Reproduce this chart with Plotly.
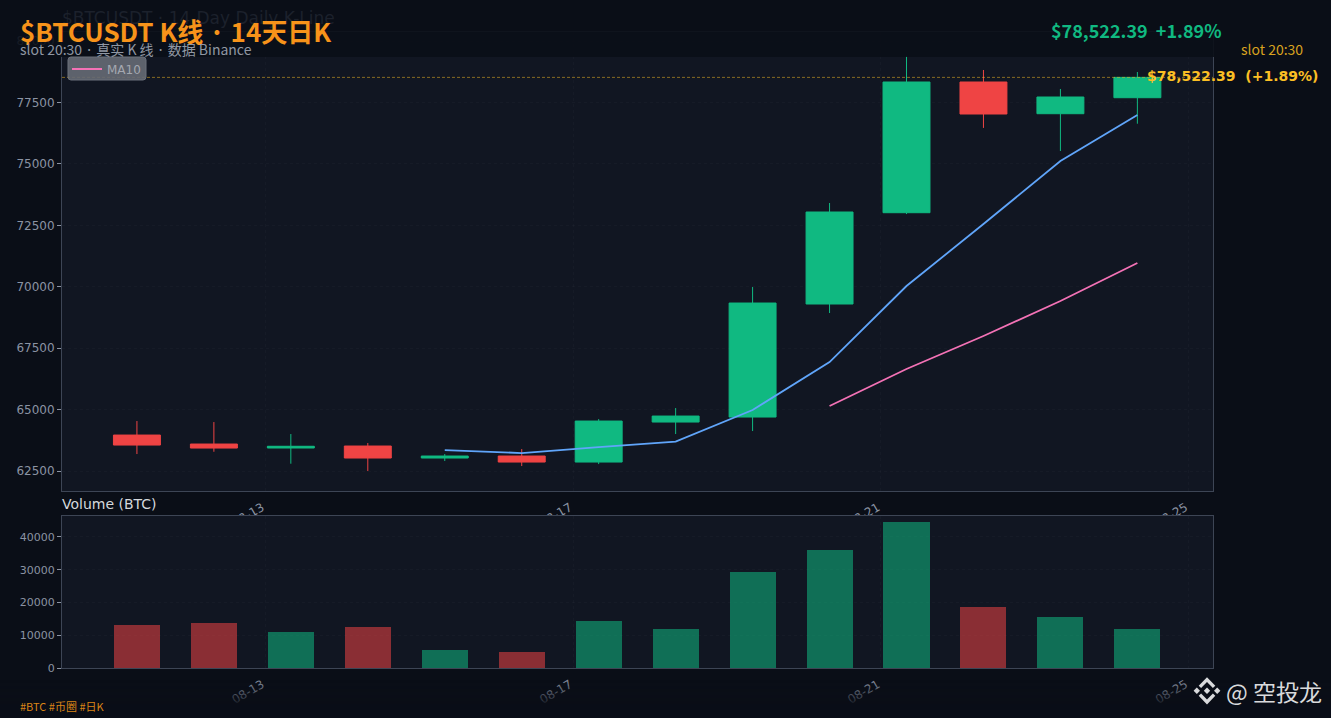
import plotly.graph_objects as go

# daily candles, 08:00 local open time
dates = ['2025-08-%02d 08:00' % d for d in range(11, 25)]
opens = [63967, 63601, 63440, 63520, 63032, 63113, 62868, 64496, 64700, 69300, 73015, 78334, 77044, 77695]
highs = [64537, 64496, 64008, 63642, 63194, 63397, 64618, 65066, 69991, 73410, 79400, 78823, 78050, 78741]
lows = [63194, 63287, 62800, 62502, 62910, 62705, 62785, 64008, 64130, 68933, 72960, 76466, 75525, 76637]
closes = [63560, 63438, 63510, 63032, 63113, 62868, 64537, 64740, 69340, 73044, 78334, 77032, 77724, 78522]
volumes = [13127, 13740, 11000, 12517, 5500, 4900, 14350, 11900, 29300, 36000, 44570, 18600, 15570, 11900]

ma5 = [None, None, None, None, 63357, 63235, 63479, 63703, 64985, 66938, 70032, 72555, 75119, 76991]
ma10 = [None, None, None, None, None, None, None, None, None, 65148, 66653, 67997, 69421, 70968]

last_price = 78522.39
tick_dates = ['2025-08-13', '2025-08-17', '2025-08-21', '2025-08-25']
tick_text = ['08-13', '08-17', '08-21', '08-25']

W, H = 1331, 718
PAPER = '#0a0e17'
PANEL = '#111622'
GREEN = '#10b981'
RED = '#ef4444'
AMBER = '#fbbf24'
ORANGE = '#f7931a'
AXIS = '#3d4555'
GRID = 'rgba(255,255,255,0.025)'
TICK = '#8b93a3'
CJK = 'Noto Sans CJK JP'
X_RANGE = ['2025-08-10 08:38', '2025-08-25 07:35']


def px(x):
    return x / W


def py(y):
    return 1 - y / H


def diamond_path(cx, cy, r):
    return 'M%f,%f L%f,%f L%f,%f L%f,%f Z' % (
        px(cx - r), py(cy), px(cx), py(cy - r), px(cx + r), py(cy), px(cx), py(cy + r))


def chevron_path(cx, cy, sign):
    # one of the two arrow heads of the exchange logo
    pts = [(cx - 8.3, cy - sign * 5), (cx, cy - sign * 13.6), (cx + 8.3, cy - sign * 5),
           (cx + 5.9, cy - sign * 2.8), (cx, cy - sign * 8.8), (cx - 5.9, cy - sign * 2.8)]
    return 'M' + ' L'.join('%f,%f' % (px(a), py(b)) for a, b in pts) + ' Z'


def rounded_path(x0, y0, x1, y1, r):
    return ('M%f,%f L%f,%f Q%f,%f %f,%f L%f,%f Q%f,%f %f,%f L%f,%f Q%f,%f %f,%f L%f,%f Q%f,%f %f,%f Z' % (
        px(x0 + r), py(y0), px(x1 - r), py(y0), px(x1), py(y0), px(x1), py(y0 + r),
        px(x1), py(y1 - r), px(x1), py(y1), px(x1 - r), py(y1),
        px(x0 + r), py(y1), px(x0), py(y1), px(x0), py(y1 - r),
        px(x0), py(y0 + r), px(x0), py(y0), px(x0 + r), py(y0)))


candles = go.Candlestick(
    x=dates, open=opens, high=highs, low=lows, close=closes,
    increasing=dict(line=dict(color=GREEN, width=1), fillcolor=GREEN),
    decreasing=dict(line=dict(color=RED, width=1), fillcolor=RED),
    showlegend=False, xaxis='x', yaxis='y',
)
ma5_line = go.Scatter(x=dates, y=ma5, mode='lines', name='MA5', showlegend=False,
                      line=dict(color='#60a5fa', width=1.8), xaxis='x', yaxis='y')
ma10_line = go.Scatter(x=dates, y=ma10, mode='lines', name='MA10',
                       line=dict(color='#f472b6', width=1.8), xaxis='x', yaxis='y')
vol_colors = ['rgba(16,185,129,0.55)' if c >= o else 'rgba(239,68,68,0.55)' for o, c in zip(opens, closes)]
vol_bars = go.Bar(x=dates, y=volumes, marker=dict(color=vol_colors, line=dict(width=0)),
                  width=51680000, showlegend=False, xaxis='x2', yaxis='y2')

shapes = [
    # volume panel hides the rotated labels of the axis above it
    dict(type='rect', xref='x2', yref='y2', layer='below', x0=X_RANGE[0], x1=X_RANGE[1], y0=0, y1=46400,
         fillcolor=PANEL, line=dict(width=0)),
    dict(type='line', xref='x domain', yref='y', x0=0, x1=1, y0=last_price, y1=last_price,
         line=dict(color=AMBER, width=1, dash='3px,2px'), opacity=0.5, layer='above'),
    # header band over the top of the price panel
    dict(type='rect', xref='paper', yref='paper', x0=0, x1=1, y0=py(57), y1=1, layer='above',
         fillcolor=PAPER, opacity=0.9, line=dict(width=0)),
    dict(type='path', xref='paper', yref='paper', path=rounded_path(68, 57, 146, 80, 3), layer='above',
         fillcolor='#666b75', opacity=0.9, line=dict(color='#767b85', width=1)),
]
# footer fade over the lower date labels
for i in range(8):
    shapes.append(dict(type='rect', xref='paper', yref='paper', x0=0, x1=1,
                       y0=py(680 + i * 3 + 3), y1=py(680 + i * 3), layer='above',
                       fillcolor=PAPER, opacity=0.1 + i * 0.1, line=dict(width=0)))
shapes.append(dict(type='rect', xref='paper', yref='paper', x0=0, x1=1, y0=0, y1=py(704), layer='above',
                   fillcolor=PAPER, opacity=0.95, line=dict(width=0)))
# logo
LOGO = '#d9dadc'
logo_x, logo_y = 1207, 690.8
for dx in (-10.2, 0, 10.2):
    shapes.append(dict(type='path', xref='paper', yref='paper', layer='above',
                       path=diamond_path(logo_x + dx, logo_y, 3.2), fillcolor=LOGO, line=dict(width=0)))
for s in (1, -1):
    shapes.append(dict(type='path', xref='paper', yref='paper', layer='above',
                       path=chevron_path(logo_x, logo_y, s), fillcolor=LOGO, line=dict(width=0)))


def label(text, x, y, size, color, family=CJK, anchor='left', bold=False):
    return dict(text='<b>%s</b>' % text if bold else text, xref='paper', yref='paper',
                x=px(x - 2), y=py(y), xanchor=anchor, yanchor='middle', showarrow=False,
                font=dict(family=family, size=size, color=color))


annotations = [
    label('$BTCUSDT · 14-Day Daily K-Line', 62, 18, 17, '#1c212c', family='DejaVu Sans'),
    label('$BTCUSDT K线 · 14天日K', 20, 30, 26, ORANGE, bold=True),
    label('slot 20:30 · 真实 K 线 · 数据 Binance', 20, 49, 14, '#9097a3'),
    label('$78,522.39  +1.89%', 1051, 30, 18, GREEN, bold=True),
    label('slot 20:30', 1241, 49.5, 14, '#d9a21f'),
    label('$78,522.39  (+1.89%)', 1147, 76, 14, AMBER, family='DejaVu Sans', bold=True),
    label('Volume (BTC)', 62, 504, 14, '#d5d8dd', family='DejaVu Sans'),
    label('#BTC #币圈 #日K', 20, 706, 11, '#d98416'),
    label('@ 空投龙', 1226, 691, 23, LOGO),
]

axis_style = dict(showline=True, linecolor=AXIS, linewidth=1, mirror=True, griddash='dot',
                  gridcolor=GRID, showgrid=True, zeroline=False, ticks='outside', ticklen=4,
                  tickfont=dict(family='DejaVu Sans', color=TICK))

layout = go.Layout(
    width=W, height=H,
    margin=dict(l=0, r=0, t=0, b=0, autoexpand=False),
    paper_bgcolor=PAPER, plot_bgcolor=PANEL,
    showlegend=True,
    legend=dict(x=px(67), y=py(69), xanchor='left', yanchor='middle', bgcolor='rgba(0,0,0,0)',
                borderwidth=0, font=dict(family='DejaVu Sans', size=12, color='#a4a8b0'), itemwidth=30),
    xaxis=dict(axis_style, domain=[px(62), px(1213)], range=X_RANGE, anchor='y',
               tickvals=tick_dates, ticktext=tick_text, tickangle=-30, tickcolor='#0a0e17',
               ticklabelshift=-3, rangeslider=dict(visible=False)),
    xaxis2=dict(axis_style, domain=[px(62), px(1213)], range=X_RANGE, anchor='y2',
                tickvals=tick_dates, ticktext=tick_text, tickangle=-30, tickcolor='#0a0e17',
                ticklabelshift=-3),
    yaxis=dict(axis_style, domain=[py(491), py(32)], range=[61690, 80369], anchor='x', tickformat='d',
               tickvals=[62500, 65000, 67500, 70000, 72500, 75000, 77500, 80000], tickcolor=TICK),
    yaxis2=dict(axis_style, domain=[py(668), py(516)], range=[0, 46400], anchor='x2', tickformat='d',
                tickvals=[0, 10000, 20000, 30000, 40000], tickcolor=TICK),
    boxgap=0.39, boxgroupgap=0,
    bargap=0,
    shapes=shapes,
    annotations=annotations,
)
layout.xaxis.tickfont.size = 12
layout.xaxis2.tickfont.size = 12
layout.yaxis.tickfont.size = 12
layout.yaxis2.tickfont.size = 11

fig = go.Figure(data=[candles, ma5_line, ma10_line, vol_bars], layout=layout)
fig.write_html("out.html", config=dict(displayModeBar=False),
               post_script="document.body.style.margin='0';document.body.style.background='%s';" % PAPER)
